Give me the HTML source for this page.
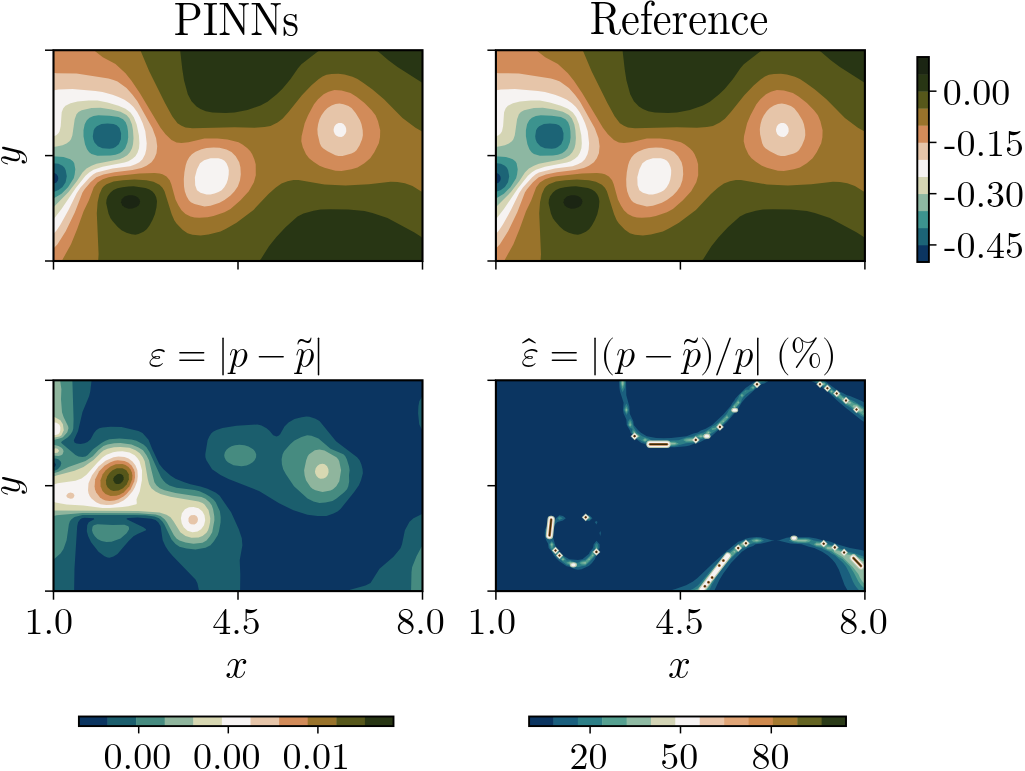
<!DOCTYPE html>
<html><head><meta charset="utf-8"><title>PINNs vs Reference</title><style>html,body{margin:0;padding:0;background:#fff;}svg{display:block;}</style></head><body>
<svg width="1025" height="771" viewBox="0 0 1025 771">
<rect width="1025" height="771" fill="#fff"/>
<clipPath id="cTL"><rect x="53.50" y="50.20" width="369.00" height="210.80"/></clipPath>
<g clip-path="url(#cTL)"><rect x="53.50" y="50.20" width="369.00" height="210.80" fill="#0b3561"/>
<path fill="#1c6476" d="M51.5,48.2 424.5,48.2 424.5,263.2 51.5,263.2 51.5,184.8 56.5,182.5 58,180.2 58.3,178.2 57.9,176.2 56.5,174.2 54.5,172.9 51.5,172Z"/>
<path fill="#3c938e" d="M51.5,48.2 424.5,48.2 424.5,263.2 51.5,263.2 51.5,192.7 58.5,190.1 62.5,187 65.6,182.2 66.8,176.2 65.7,170.2 64.5,167.8 62.5,165.7 58.5,163.7 51.5,163ZM101.5,124.1 96.8,126.2 94.8,128.2 93.7,130.2 92.8,136.2 93.2,139.2 94.5,142.5 97.9,146.2 102.5,148.2 109.5,148.8 113,148.2 115.5,147.1 118.8,144.2 120.9,139.2 121.1,133.2 119.5,128 116.7,125.2 113.5,124.1 107.5,123.5Z"/>
<path fill="#8db7a2" d="M51.5,48.2 424.5,48.2 424.5,263.2 51.5,263.2 51.5,199.7 61.5,193.7 68,187.2 73.7,178.2 74.7,174.2 75.3,169.2 74.2,163.2 72.9,161.2 70.3,159.2 63.5,156.9 51.5,156.2ZM98.5,115.2 93.5,116.1 89.5,117.7 86.8,120.2 84.7,124.2 83.5,130.2 83.5,136.2 85,144.2 87,149.2 89.2,152.2 91.5,154 97.5,155.8 110.5,155.5 115.5,154.7 119.7,153.2 122.5,151.2 125.2,148.2 127.5,142.2 128.2,137.2 128,131.2 127.2,126.2 125.7,122.2 123.1,119.2 118.5,117.1 109.5,115.7Z"/>
<path fill="#d5d5b4" d="M51.5,48.2 424.5,48.2 424.5,263.2 51.5,263.2 51.5,209.2 68.5,192.1 76.8,181.2 82.5,172.5 86.5,168.6 91.5,165.7 96.5,163.7 119.5,159.2 123.5,157.6 127.2,155.2 129.9,152.2 132,148.2 133,144.2 133.5,138.2 133,130.2 131.9,124.2 129.5,118.4 126.5,114.9 120.5,111.8 111.5,109.5 100.5,107.8 91.5,107.9 81.7,110.2 78.5,112.1 76.5,114.2 74.7,119.2 72.4,135.2 71,139.2 69.5,141.3 66.5,143.6 62.5,145.3 56.5,146.6 51.5,147.1Z"/>
<path fill="#f6f3f2" d="M51.5,48.2 424.5,48.2 424.5,263.2 51.5,263.2 51.5,221.9 61.5,209 75.6,188.2 85.5,175.8 89.5,172.3 93.5,169.7 102.5,166.8 124.5,162.6 128.4,161.2 132.5,158.8 135.4,156.2 137.5,152.7 139,148.2 139.4,143.2 138.9,135.2 136.6,124.2 133.8,117.2 130.5,112.4 125.5,108.8 118.5,105.8 107.5,102.4 97.5,100.6 88.5,100.4 77.5,101.4 70.5,103.2 65.5,105.7 63.3,108.2 61.7,112.2 60.7,126.2 59.6,131.2 58.4,133.2 56.2,135.2 53.9,136.2 51.5,136.4Z"/>
<path fill="#e6c5a9" d="M51.5,48.2 424.5,48.2 424.5,263.2 51.5,263.2 51.5,236.2 56.5,230.6 60.5,224.4 68.5,210.1 76.7,193.2 80.5,187.4 89.8,177.2 93.4,174.2 96.5,172.5 112.5,168.6 130.1,166.2 135.5,164.3 139.4,162.2 142.5,159.2 145.1,154.2 146.3,149.2 146.7,143.2 145.3,131.2 142.7,123.2 140,117.2 137.3,112.2 133.5,107.1 129.5,103.2 124.5,99.8 118.5,96.9 112.5,94.7 102.5,92.1 95.5,91 72.5,89 58.5,89.4 51.5,90.7ZM210.5,158.2 204.1,160.2 200,163.2 197,169.2 194.9,177.2 195.2,185.2 197,190.2 200.5,192.8 206.5,194.4 210.5,194.4 214.5,193.5 218.5,192.1 221.6,190.2 224.3,187.2 226.6,183.2 227.9,179.2 228.7,174.2 228.8,170.2 228.2,167.2 226.5,163.3 224.5,160.8 221.9,159.2 218.5,158.3ZM338.5,123 336.1,124.2 334.5,126.2 333.6,129.2 333.7,131.2 334.9,134.2 336.5,135.8 338.5,136.8 341.5,136.9 343.5,136 345.5,133.6 346.3,131.2 346.1,128.2 345.3,126.2 343.5,124.1 341.5,123Z"/>
<path fill="#d28b59" d="M51.5,48.2 424.5,48.2 424.5,263.2 51.5,263.2 51.5,250.6 57.5,244.2 65.7,231.2 74.9,212.2 82.5,192.5 84.6,189.2 90.5,182.2 96.3,177.2 103.5,174.5 114.5,172.2 132.5,170.1 141.5,167.9 146.5,165.8 151.5,162.2 154.4,158.2 156.5,153.2 157.2,146.2 156.1,138.2 152.4,128.2 137.5,101.6 132.5,94.7 126.5,87.9 117.5,81.6 113.5,79.9 108.5,78.6 76.5,73.5 56.5,73.2 51.5,72.6ZM206.5,148.1 201.5,149.2 195.5,151.8 191.9,154.2 189.2,157.2 187,161.2 185.7,165.2 184.4,172.2 183.8,179.2 184,186.2 184.8,191.2 186.6,196.2 188.9,200.2 190.9,202.2 194.5,204.1 204.5,206.4 210.5,205.7 219.5,202.8 224.5,200.1 230.5,195.5 234.5,191.2 237.9,186.2 240,180.2 240.8,174.2 240.4,167.2 239.2,162.2 235.7,156.2 231.5,151.9 226.5,149.5 219.5,147.8 213.5,147.5ZM335.5,104 331.5,105.4 327.5,107.9 324.5,110.9 321.5,115.2 319.5,119.2 318.1,124.2 317.4,129.2 317.7,134.2 319.8,143.2 321.2,146.2 323,148.2 327.5,151.3 335.4,155.2 338.5,156.1 342.5,156 351.5,153.6 354.5,152 356.5,150.2 359.5,145.4 362.1,139.2 362.9,135.2 362.7,130.2 361.5,124.2 360,120.2 355.8,113.2 351.8,108.2 348.5,105.9 343.5,104.2 339.5,103.6Z"/>
<path fill="#99732b" d="M89.2,48.2 424.5,48.2 424.5,263.2 60.5,263.2 71,244.2 77.1,229.2 83.6,211.2 88.9,200.2 93.8,187.2 97.5,182.4 102.7,179.2 108.5,177.3 113.9,176.2 139.5,173.4 154.5,172.9 159.5,173.4 162.5,174.2 166.5,176.6 169.7,180.2 171.3,184.2 175.5,199.4 178.5,205.6 181.5,210.2 185.5,213.9 190.5,216.5 194.5,217.6 199.5,217.8 207.5,217.3 213.5,216.1 224.5,212.3 230.5,209 240.5,200.2 248.8,191.2 253.9,182.2 255.8,175.2 255.7,164.2 254.3,159.2 252.2,154.2 250.3,151.2 247.4,148.2 242.5,144.5 238.5,142.3 227.5,139.4 217.5,138.4 204.5,138.6 188.5,142.2 181.5,143 176.5,142.6 171.5,139.9 165.5,134.2 160.5,127.7 139.9,93.2 131.5,80.8 125.5,73.2 115.5,63.9 102.8,57.2 94.5,50.8ZM334.5,90.1 328.5,91.7 323.6,94.2 318,99.2 314,104.2 308.1,115.2 304.7,123.2 301.6,136.2 301.3,141.2 302.8,147.2 306,154.2 309.1,158.2 313.5,161.8 319.5,165.7 324.5,167.8 335.5,170.7 341.5,171.1 351.5,169.3 357.5,167.4 364.4,163.2 370.2,158.2 374.3,152.2 378.8,143.2 380,137.2 380.2,130.2 378,121.2 375.5,115.2 371.6,110.2 364.5,103 356.5,96.7 350.5,93.1 341.5,90.5Z"/>
<path fill="#56571a" d="M139.5,48.2 424.5,48.2 424.5,132.9 415.5,127.7 402.5,118.1 384,99.2 372.5,89.5 363.5,83 357.5,79 352.5,76.7 344.5,74.5 338.5,73.7 331.5,74 326.5,74.8 322.5,76.5 318.5,79.3 311.5,85.3 301.9,95.2 288.5,112 282.5,118.7 277.5,122.6 270.5,126 264.5,127.1 254.5,127.8 234.5,127.3 192.5,128.3 185.5,127.5 181.5,125.8 177.5,123.3 172.2,116.2 165.1,103.2 149.2,71.2ZM122.9,180.2 134.5,179.4 146.5,180.3 153.5,181.7 159.5,184.8 162.5,187.7 164.5,191.2 171.7,214.2 174.3,220.2 176.5,223.6 182.5,229.7 187.5,233.3 192.5,234.7 200.5,235.4 208.5,234.5 220.5,231.4 226.5,228.6 236.5,222.8 253.5,209.9 268.5,194.1 275.5,187.7 281.5,183.4 287.5,181.2 293.5,180.1 298.5,180 324.5,184.4 345.5,185.6 368.9,184.2 390.5,181.7 397.5,181.9 404.9,183.2 412.5,186.1 420.9,191.2 424.5,192.7 424.5,263.2 98,263.2 98.6,254.2 96.8,213.2 97.6,202.2 99.4,194.2 102.1,188.2 103.8,186.2 106.5,184.2 113.5,181.6Z"/>
<path fill="#283614" d="M179.9,48.2 323.9,48.2 317.5,51.7 301.4,64.2 298,68.2 290.4,79.2 282.5,88.8 276.5,94.6 267.5,101.8 260.5,105.4 247.5,110.1 234.5,112.4 225.5,113 212.5,112.6 205.8,111.2 200.5,109 196.5,106.6 191.5,101.2 187.8,94.2 184,80.2 182.3,69.2ZM372,48.2 424.5,48.2 424.5,84.1 397.5,66.9 388.4,60.2 378.5,51.8ZM122.4,187.2 128.5,186.4 133.5,186.3 145.5,188.1 149.5,189.6 152.5,191.4 154.8,194.2 156.2,197.2 157,201.2 156.5,207.2 154.9,214.2 152.5,219.9 149.5,225.5 146.7,229.2 143.5,231.7 138.5,234.1 135.5,234.8 131.5,234.3 126.5,232.7 121.5,230.2 117.5,226.8 112.5,221.1 110.5,218.2 108.5,213.4 106.2,203.2 106.5,199.7 107.7,196.2 110.5,192.4 113.5,190 117.5,188.3ZM330.5,209.2 348.5,209.4 364.5,211.1 372.5,212.9 387.5,218 414,232.2 420.3,236.2 424.5,239.6 424.5,263.2 256.2,263.2 260.8,259.2 269,246.2 276.2,237.2 285.5,227.2 297.5,216.6 303.5,213.5 313.5,210.7 320.5,209.6Z"/>
<path fill="#1b2513" d="M128.7,195.2 132.5,195.2 135.5,196 137.5,197.2 139.3,199.2 140,201.2 139.7,203.2 138.6,205.2 136.5,207.1 132.5,208.6 128.5,208.7 124.5,207.2 122.2,205.2 121,202.2 121.8,199.2 124.5,196.6Z"/></g>
<clipPath id="cTR"><rect x="495.90" y="50.20" width="369.00" height="210.80"/></clipPath>
<g clip-path="url(#cTR)"><rect x="495.90" y="50.20" width="369.00" height="210.80" fill="#0b3561"/>
<g transform="translate(442.40,0)"><path fill="#1c6476" d="M51.5,48.2 424.5,48.2 424.5,263.2 51.5,263.2 51.5,184.8 56.5,182.5 58,180.2 58.3,178.2 57.9,176.2 56.5,174.2 54.5,172.9 51.5,172Z"/>
<path fill="#3c938e" d="M51.5,48.2 424.5,48.2 424.5,263.2 51.5,263.2 51.5,192.7 58.5,190.1 62.5,187 65.6,182.2 66.8,176.2 65.7,170.2 64.5,167.8 62.5,165.7 58.5,163.7 51.5,163ZM101.5,124.1 96.8,126.2 94.8,128.2 93.7,130.2 92.8,136.2 93.2,139.2 94.5,142.5 97.9,146.2 102.5,148.2 109.5,148.8 113,148.2 115.5,147.1 118.8,144.2 120.9,139.2 121.1,133.2 119.5,128 116.7,125.2 113.5,124.1 107.5,123.5Z"/>
<path fill="#8db7a2" d="M51.5,48.2 424.5,48.2 424.5,263.2 51.5,263.2 51.5,199.7 61.5,193.7 68,187.2 73.7,178.2 74.7,174.2 75.3,169.2 74.2,163.2 72.9,161.2 70.3,159.2 63.5,156.9 51.5,156.2ZM98.5,115.2 93.5,116.1 89.5,117.7 86.8,120.2 84.7,124.2 83.5,130.2 83.5,136.2 85,144.2 87,149.2 89.2,152.2 91.5,154 97.5,155.8 110.5,155.5 115.5,154.7 119.7,153.2 122.5,151.2 125.2,148.2 127.5,142.2 128.2,137.2 128,131.2 127.2,126.2 125.7,122.2 123.1,119.2 118.5,117.1 109.5,115.7Z"/>
<path fill="#d5d5b4" d="M51.5,48.2 424.5,48.2 424.5,263.2 51.5,263.2 51.5,209.2 68.5,192.1 76.8,181.2 82.5,172.5 86.5,168.6 91.5,165.7 96.5,163.7 119.5,159.2 123.5,157.6 127.2,155.2 129.9,152.2 132,148.2 133,144.2 133.5,138.2 133,130.2 131.9,124.2 129.5,118.4 126.5,114.9 120.5,111.8 111.5,109.5 100.5,107.8 91.5,107.9 81.7,110.2 78.5,112.1 76.5,114.2 74.7,119.2 72.4,135.2 71,139.2 69.5,141.3 66.5,143.6 62.5,145.3 56.5,146.6 51.5,147.1Z"/>
<path fill="#f6f3f2" d="M51.5,48.2 424.5,48.2 424.5,263.2 51.5,263.2 51.5,221.9 61.5,209 75.6,188.2 85.5,175.8 89.5,172.3 93.5,169.7 102.5,166.8 124.5,162.6 128.4,161.2 132.5,158.8 135.4,156.2 137.5,152.7 139,148.2 139.4,143.2 138.9,135.2 136.6,124.2 133.8,117.2 130.5,112.4 125.5,108.8 118.5,105.8 107.5,102.4 97.5,100.6 88.5,100.4 77.5,101.4 70.5,103.2 65.5,105.7 63.3,108.2 61.7,112.2 60.7,126.2 59.6,131.2 58.4,133.2 56.2,135.2 53.9,136.2 51.5,136.4Z"/>
<path fill="#e6c5a9" d="M51.5,48.2 424.5,48.2 424.5,263.2 51.5,263.2 51.5,236.2 56.5,230.6 60.5,224.4 68.5,210.1 76.7,193.2 80.5,187.4 89.8,177.2 93.4,174.2 96.5,172.5 112.5,168.6 130.1,166.2 135.5,164.3 139.4,162.2 142.5,159.2 145.1,154.2 146.3,149.2 146.7,143.2 145.3,131.2 142.7,123.2 140,117.2 137.3,112.2 133.5,107.1 129.5,103.2 124.5,99.8 118.5,96.9 112.5,94.7 102.5,92.1 95.5,91 72.5,89 58.5,89.4 51.5,90.7ZM210.5,158.2 204.1,160.2 200,163.2 197,169.2 194.9,177.2 195.2,185.2 197,190.2 200.5,192.8 206.5,194.4 210.5,194.4 214.5,193.5 218.5,192.1 221.6,190.2 224.3,187.2 226.6,183.2 227.9,179.2 228.7,174.2 228.8,170.2 228.2,167.2 226.5,163.3 224.5,160.8 221.9,159.2 218.5,158.3ZM338.5,123 336.1,124.2 334.5,126.2 333.6,129.2 333.7,131.2 334.9,134.2 336.5,135.8 338.5,136.8 341.5,136.9 343.5,136 345.5,133.6 346.3,131.2 346.1,128.2 345.3,126.2 343.5,124.1 341.5,123Z"/>
<path fill="#d28b59" d="M51.5,48.2 424.5,48.2 424.5,263.2 51.5,263.2 51.5,250.6 57.5,244.2 65.7,231.2 74.9,212.2 82.5,192.5 84.6,189.2 90.5,182.2 96.3,177.2 103.5,174.5 114.5,172.2 132.5,170.1 141.5,167.9 146.5,165.8 151.5,162.2 154.4,158.2 156.5,153.2 157.2,146.2 156.1,138.2 152.4,128.2 137.5,101.6 132.5,94.7 126.5,87.9 117.5,81.6 113.5,79.9 108.5,78.6 76.5,73.5 56.5,73.2 51.5,72.6ZM206.5,148.1 201.5,149.2 195.5,151.8 191.9,154.2 189.2,157.2 187,161.2 185.7,165.2 184.4,172.2 183.8,179.2 184,186.2 184.8,191.2 186.6,196.2 188.9,200.2 190.9,202.2 194.5,204.1 204.5,206.4 210.5,205.7 219.5,202.8 224.5,200.1 230.5,195.5 234.5,191.2 237.9,186.2 240,180.2 240.8,174.2 240.4,167.2 239.2,162.2 235.7,156.2 231.5,151.9 226.5,149.5 219.5,147.8 213.5,147.5ZM335.5,104 331.5,105.4 327.5,107.9 324.5,110.9 321.5,115.2 319.5,119.2 318.1,124.2 317.4,129.2 317.7,134.2 319.8,143.2 321.2,146.2 323,148.2 327.5,151.3 335.4,155.2 338.5,156.1 342.5,156 351.5,153.6 354.5,152 356.5,150.2 359.5,145.4 362.1,139.2 362.9,135.2 362.7,130.2 361.5,124.2 360,120.2 355.8,113.2 351.8,108.2 348.5,105.9 343.5,104.2 339.5,103.6Z"/>
<path fill="#99732b" d="M89.2,48.2 424.5,48.2 424.5,263.2 60.5,263.2 71,244.2 77.1,229.2 83.6,211.2 88.9,200.2 93.8,187.2 97.5,182.4 102.7,179.2 108.5,177.3 113.9,176.2 139.5,173.4 154.5,172.9 159.5,173.4 162.5,174.2 166.5,176.6 169.7,180.2 171.3,184.2 175.5,199.4 178.5,205.6 181.5,210.2 185.5,213.9 190.5,216.5 194.5,217.6 199.5,217.8 207.5,217.3 213.5,216.1 224.5,212.3 230.5,209 240.5,200.2 248.8,191.2 253.9,182.2 255.8,175.2 255.7,164.2 254.3,159.2 252.2,154.2 250.3,151.2 247.4,148.2 242.5,144.5 238.5,142.3 227.5,139.4 217.5,138.4 204.5,138.6 188.5,142.2 181.5,143 176.5,142.6 171.5,139.9 165.5,134.2 160.5,127.7 139.9,93.2 131.5,80.8 125.5,73.2 115.5,63.9 102.8,57.2 94.5,50.8ZM334.5,90.1 328.5,91.7 323.6,94.2 318,99.2 314,104.2 308.1,115.2 304.7,123.2 301.6,136.2 301.3,141.2 302.8,147.2 306,154.2 309.1,158.2 313.5,161.8 319.5,165.7 324.5,167.8 335.5,170.7 341.5,171.1 351.5,169.3 357.5,167.4 364.4,163.2 370.2,158.2 374.3,152.2 378.8,143.2 380,137.2 380.2,130.2 378,121.2 375.5,115.2 371.6,110.2 364.5,103 356.5,96.7 350.5,93.1 341.5,90.5Z"/>
<path fill="#56571a" d="M139.5,48.2 424.5,48.2 424.5,132.9 415.5,127.7 402.5,118.1 384,99.2 372.5,89.5 363.5,83 357.5,79 352.5,76.7 344.5,74.5 338.5,73.7 331.5,74 326.5,74.8 322.5,76.5 318.5,79.3 311.5,85.3 301.9,95.2 288.5,112 282.5,118.7 277.5,122.6 270.5,126 264.5,127.1 254.5,127.8 234.5,127.3 192.5,128.3 185.5,127.5 181.5,125.8 177.5,123.3 172.2,116.2 165.1,103.2 149.2,71.2ZM122.9,180.2 134.5,179.4 146.5,180.3 153.5,181.7 159.5,184.8 162.5,187.7 164.5,191.2 171.7,214.2 174.3,220.2 176.5,223.6 182.5,229.7 187.5,233.3 192.5,234.7 200.5,235.4 208.5,234.5 220.5,231.4 226.5,228.6 236.5,222.8 253.5,209.9 268.5,194.1 275.5,187.7 281.5,183.4 287.5,181.2 293.5,180.1 298.5,180 324.5,184.4 345.5,185.6 368.9,184.2 390.5,181.7 397.5,181.9 404.9,183.2 412.5,186.1 420.9,191.2 424.5,192.7 424.5,263.2 98,263.2 98.6,254.2 96.8,213.2 97.6,202.2 99.4,194.2 102.1,188.2 103.8,186.2 106.5,184.2 113.5,181.6Z"/>
<path fill="#283614" d="M179.9,48.2 323.9,48.2 317.5,51.7 301.4,64.2 298,68.2 290.4,79.2 282.5,88.8 276.5,94.6 267.5,101.8 260.5,105.4 247.5,110.1 234.5,112.4 225.5,113 212.5,112.6 205.8,111.2 200.5,109 196.5,106.6 191.5,101.2 187.8,94.2 184,80.2 182.3,69.2ZM372,48.2 424.5,48.2 424.5,84.1 397.5,66.9 388.4,60.2 378.5,51.8ZM122.4,187.2 128.5,186.4 133.5,186.3 145.5,188.1 149.5,189.6 152.5,191.4 154.8,194.2 156.2,197.2 157,201.2 156.5,207.2 154.9,214.2 152.5,219.9 149.5,225.5 146.7,229.2 143.5,231.7 138.5,234.1 135.5,234.8 131.5,234.3 126.5,232.7 121.5,230.2 117.5,226.8 112.5,221.1 110.5,218.2 108.5,213.4 106.2,203.2 106.5,199.7 107.7,196.2 110.5,192.4 113.5,190 117.5,188.3ZM330.5,209.2 348.5,209.4 364.5,211.1 372.5,212.9 387.5,218 414,232.2 420.3,236.2 424.5,239.6 424.5,263.2 256.2,263.2 260.8,259.2 269,246.2 276.2,237.2 285.5,227.2 297.5,216.6 303.5,213.5 313.5,210.7 320.5,209.6Z"/>
<path fill="#1b2513" d="M128.7,195.2 132.5,195.2 135.5,196 137.5,197.2 139.3,199.2 140,201.2 139.7,203.2 138.6,205.2 136.5,207.1 132.5,208.6 128.5,208.7 124.5,207.2 122.2,205.2 121,202.2 121.8,199.2 124.5,196.6Z"/></g></g>
<clipPath id="cBL"><rect x="53.50" y="380.30" width="369.00" height="210.80"/></clipPath>
<g clip-path="url(#cBL)"><rect x="53.50" y="380.30" width="369.00" height="210.80" fill="#0b3561"/>
<path fill="#1b5e6d" d="M51.5,378.3 91.8,378.3 90.3,391.3 89.1,396.3 82.5,412 78,431.3 73.8,440.3 74.5,442.5 76.5,443.5 80.5,444 84.5,443.3 87.5,442 90.6,439.3 93.8,433.3 96.2,430.3 99.2,428.3 102.5,427.4 110.5,426.8 121.5,427 138.5,430.9 142.5,433.1 148.5,439.7 152.3,449.3 159.4,464.3 163.5,469.3 170.5,475.4 175.5,478.8 184.4,482.3 190.5,484.3 200.5,486.5 207.5,488.8 215.5,492.4 219.5,495.6 231.1,512.3 238.8,529.3 241.8,538.3 242.4,545.3 239.7,560.3 240.3,574.3 240.1,593.3 199.6,593.3 197.4,583.3 195.5,579.6 172.5,555.8 168.5,551.1 165.4,546.3 162.7,540.3 160.6,526.3 158.2,522.3 155.5,520 151.5,518.7 137.5,517.6 128.5,518 126.8,518.3 126.7,519.3 143.3,527.3 146,529.3 146,530.3 137.5,533.9 133.5,536.3 128.4,541.3 117.5,554 113.5,556.6 109.5,557.8 107.5,557.6 104.5,556.3 98.5,551.8 91.1,542.3 88.2,536.3 86.8,531.3 87.2,525.3 88.7,522.3 94.2,519.3 93.9,518.3 84.5,517.7 81.9,518.3 80.3,519.3 78.1,522.3 77.2,526.3 74.5,568.3 74.1,593.3 51.5,593.3 51.5,466.7 53.5,467.2 54.5,466.9 55.5,466 55.9,464.3 54.5,462.4 52.5,462.3 51.5,462.7ZM424,393.3 424.5,392.5 424.5,434.6 419.2,424.3 418.1,413.3 418.4,406.3 419.3,401.3ZM301.6,417.3 306.5,416.6 309.5,416.8 315.5,418.7 319.5,420.9 336,441.3 357.1,457.3 359.6,460.3 361.3,464.3 362.6,469.3 362.9,473.3 361,480.3 358.9,485.3 354,492.3 340.5,509.1 337.5,511.5 333.5,513.6 326.5,516 317.5,515.9 307.5,514.7 293.5,510.3 279.1,503.3 259.5,491.2 228.5,479 220.5,475 212.1,469.3 206.4,460.3 205.4,457.3 205.3,454.3 207.6,440.3 209.4,436.3 211.4,433.3 213.5,431.5 216.5,429.9 222.5,427.9 236.5,425.8 257.5,424.5 261.5,425.5 266.5,428.3 269.5,430.7 273.2,435.3 276.5,436.6 278.5,435.8 280.1,434.3 284.5,426.5 288.5,422.6 294.5,419.1ZM423.9,512.3 424.5,511.6 424.5,593.3 341.7,593.3 347.5,590.4 365.5,585.6 370.5,583.1 379.5,568.7 393.5,556.8 400.5,548.3 402,544.3 404.9,530.3 409.5,521.8 413.5,518.2 421.5,514.3Z"/>
<path fill="#468b80" d="M51.5,378.3 72.3,378.3 73.6,419.3 73.3,428.3 72.5,431.3 70.5,434.6 67.5,437.4 62,441.3 61.1,442.3 61.6,443.3 75.5,455 78.5,456.4 82.5,457.1 85.5,456.5 87.5,455.3 93.1,449.3 101.5,443 105.5,440.7 109.5,439.3 119.5,438.5 131.5,439.5 136.5,440.8 143.5,444.5 146.5,447.2 149.5,452 161,477.3 163.5,480.8 166,483.3 169.5,485.4 176.5,487.7 194.5,490 199.5,491.3 205.5,494 209.3,496.3 213.2,499.3 215.7,502.3 219.9,511.3 220.7,517.3 220.6,522.3 219,531.3 217.7,535.3 213.9,541.3 210.5,545.3 205.5,547.7 195.5,549.6 186.5,548.6 179.5,546.7 175.5,544 171.5,539.6 164.5,524.8 162.2,521.3 159,518.3 154.5,516.5 145.5,515.3 133.5,514.9 82.5,515 74.5,517.1 71.5,519.3 69.9,521.3 68.9,524.3 66.6,540.3 63.5,549 60.5,553.6 51.5,561.4 51.5,471.1 54.5,470.7 57.8,469.3 60.4,466.3 61.3,463.3 60.6,461.3 58.2,459.3 55.5,458.5 51.5,458.3ZM307.2,435.3 311.5,435.7 318.5,438.6 330.5,448.8 343.4,454.3 345.3,456.3 346.8,459.3 349,466.3 349.6,470.3 349,475.3 349.2,481.3 348.3,486.3 347,489.3 344.2,492.3 336.5,498.6 332.5,500.9 325.5,502.6 319.5,503.1 313.5,501.5 307.5,498.6 294,486.3 285.9,474.3 283.2,469.3 281.9,464.3 281.6,459.3 282.6,454.3 284.1,451.3 290.2,444.3 294.5,440.4 301.5,437ZM234.9,445.3 239.5,444.7 244.5,445.3 248.5,446.5 253.1,449.3 254.9,451.3 256.2,454.3 256.1,457.3 254.6,460.3 252.7,462.3 249.5,464.3 246.5,465.5 241.5,466.3 233.5,465.3 227.9,462.3 225.9,460.3 224.5,457.3 224.2,455.3 224.9,452.3 226.5,449.8 228.5,448.1 231.5,446.3ZM97.4,524.3 112.5,525 124.5,524.8 128.3,526.3 128.9,527.3 129.1,529.3 126.6,533.3 120.5,538.4 111.5,541.7 106.5,542.1 101.5,540.9 97.5,539 94.8,536.3 92.9,533.3 92,530.3 92.5,526.7 93.8,525.3ZM424.2,543.3 424.5,593.3 411,593.3 411.5,572.3 412.1,567.3 416.5,556.2 421.3,547.3Z"/>
<path fill="#8fb59d" d="M51.5,378.3 59.8,378.3 61.4,389.3 61,399.3 62,412.3 63.7,417.3 68.1,426.3 68.5,428.3 67.3,432.3 62.9,437.3 59.5,438.6 53.5,439.9 51.5,441.6ZM114.3,443.3 120.5,443.1 131.5,444.4 138.5,447.4 143,450.3 146.5,455.2 149,460.3 154.4,482.3 156.4,485.3 159.8,488.3 164.5,490.3 175.5,493 201.5,496.9 205.5,498.8 209.5,502.3 211.7,505.3 213.1,509.3 214.3,516.3 214.4,520.3 212.2,532.3 209.9,536.3 206.5,540.5 202.5,542.7 193.5,543.7 185.5,542.5 179.5,540.6 176.5,538.4 173.9,535.3 166.9,522.3 164.6,519.3 160.5,516.1 155.5,514.6 138.5,513.2 82.5,513 56.5,515.3 51.5,516.6 51.5,473.9 58.5,471.8 68.5,467 85.5,460.9 92.8,456.3 98.5,450.1 103.5,446.1 107.5,444.5ZM51.5,444.3 51.5,443.6 53.5,444.8 58.5,445.9 61.5,447.7 62.9,449.3 63.6,451.3 62.6,454.3 61.2,455.3 58.5,456 51.5,455.5ZM314.8,450.3 319.5,449.4 324.5,450.6 336.4,457.3 338.2,459.3 339.2,461.3 341.1,470.3 339.3,481.3 336.3,486.3 333,489.3 330.5,490.6 322.5,492 315.5,490.3 312.5,488.8 310.5,487 306,480.3 304.6,475.3 304.1,470.3 306.2,460.3 307.7,456.3 309.1,454.3Z"/>
<path fill="#d8d8b2" d="M51.5,415.3 60.4,420.3 62.9,424.3 63.8,430.3 61.5,435.3 59.5,436.6 51.5,437.9ZM114,447.3 120.5,446.9 129.5,447.8 135.6,450.3 139.8,453.3 142.8,457.3 144.7,461.3 147.8,479.3 149.1,484.3 151.4,488.3 155.5,491.5 160.5,494.1 170.5,496.7 198.5,501.6 202.5,503.1 204.5,504.6 208.5,510.1 210.3,518.3 210.1,522.3 209,527.3 208,530.3 206.5,532.7 202.5,536 198.5,537.5 191.5,537.7 185.5,535.9 180.3,532.3 173.5,521.2 170.5,517.3 166.5,514.8 159.5,512.4 138.5,511.1 51.5,510.4 51.5,477.4 56.5,475.4 74.5,470.7 83.5,467.1 93.5,459.9 100.5,452.9 103.5,450.6 107.5,448.8ZM55.5,448.3 57.5,448.8 58.9,450.3 58.9,451.3 57.5,452.7 54.5,452.9 52.5,451.3 52.7,449.3ZM319.7,464.3 322.5,463.7 324.8,464.3 327.1,466.3 328.4,469.3 328.6,472.3 327.6,475.3 326,477.3 323.5,478.6 320.5,478.7 318.5,477.9 316.5,476.1 315.2,473.3 315,471.3 315.7,468.3 317.5,465.8Z"/>
<path fill="#f6f3f2" d="M51.5,422.3 51.5,421.9 56.5,422.7 59.5,424.8 60.4,427.3 60.3,430.3 59.5,432.9 58.1,434.3 55.5,435 51.5,434.9ZM113.1,452.3 117.5,451.5 122.5,451.3 129.5,452.6 134.7,455.3 137.5,458.2 139.5,461.3 142,470.3 141.9,480.3 139.8,491.3 136.5,499.3 136.8,503.3 136.4,504.3 128.2,506.3 122.5,507.1 109.5,508.1 102.5,508 83.5,505.6 66.5,504.5 55.5,502.6 51.5,500.6 51.5,486.6 53.5,484.7 57.5,483.2 75.5,480.8 81.5,478.6 86.5,474.8 97.5,462.5 102.5,457.6 106.5,454.8ZM189,507.3 193.5,506.9 198.5,508.2 202.3,511.3 204.5,515.3 205.2,520.3 204,525.3 201.1,529.3 197.5,531.4 192.5,532.2 187.5,530.7 183.7,527.3 181.7,523.3 180.9,518.3 181.9,513.3 184.9,509.3Z"/>
<path fill="#e6c5a9" d="M113.5,457.3 118.5,456.6 124.5,457 128.5,458.6 132.5,461.4 135.4,465.3 137.4,470.3 137.8,476.3 137.2,481.3 134.9,487.3 132.6,491.3 127.5,497.3 123.5,500.5 118.5,503.1 112.5,504.7 106.5,505 100.5,504.3 96.1,502.3 91.5,498.6 89.8,496.3 88.5,493.3 88,490.3 88.5,483.3 92,475.3 98.5,466.6 105.5,460.7ZM68.1,493.3 70.5,492.6 73.2,493.3 74.5,495.3 73.9,497.3 72.5,498.4 70.5,498.8 67.5,497.8 66.4,496.3 66.4,495.3ZM191,515.3 194.5,514.9 196.5,516.1 197.5,517.5 198,519.3 197.5,521.8 196.4,523.3 194.5,524.5 191,524.3 189.5,523.2 188.5,521.5 188.5,518.2 189.5,516.5Z"/>
<path fill="#d28b59" d="M117.7,460.3 124.5,460.9 128.5,462.8 131.5,465.4 133.8,469.3 134.8,472.3 135,477.3 134.3,481.3 130.6,489.3 126.5,493.9 123.5,496.4 118.5,499.2 114.5,500.5 109.5,501 105.5,500.5 102.5,499.2 99.8,497.3 96.1,492.3 95,489.3 94.6,486.3 95.2,479.3 99.2,471.3 104.5,465.8 110.5,462.2 114.5,460.8Z"/>
<path fill="#99732b" d="M115.8,464.3 122.5,464.1 125.5,465 128.5,467 130.4,469.3 131.8,472.3 132.4,475.3 132.2,479.3 129.4,486.3 123.9,492.3 120.5,494.3 116.5,495.8 110.5,496 105.5,494 102.5,490.9 100.6,486.3 100.5,480.3 102.7,474.3 105.8,470.3 110.5,466.5Z"/>
<path fill="#56571a" d="M116.9,468.3 122.5,468.2 126.4,470.3 128.7,474.3 128.9,479.3 126.8,484.3 123.1,488.3 118.5,490.6 113.5,491 110.5,490 107.5,487.3 106.2,484.3 106,480.3 107.3,476.3 109.5,473 112.5,470.3Z"/>
<path fill="#283614" d="M117.2,474.3 119.5,473.8 121.5,474.3 122.7,475.3 123.6,477.3 123.6,479.3 122.5,481.6 120.5,483.4 118.5,484.1 116.5,484.1 114.8,483.3 113.3,480.3 113.5,478.3 114.5,476.4Z"/></g>
<clipPath id="cBR"><rect x="495.90" y="380.30" width="369.00" height="210.80"/></clipPath>
<g clip-path="url(#cBR)"><rect x="495.90" y="380.30" width="369.00" height="210.80" fill="#0b3561"/>
<path fill="#1a5f7e" d="M616.2,372.8 625.9,372.8 626.3,395.2 629.4,406.4 629.8,413.8 633.3,421.3 633.8,425 637.5,429.6 640.6,432.5 646.8,436.2 656.2,437.9 663.6,438.2 671.1,438 686.5,436.2 693.4,433.5 697.8,432.5 700.9,430.6 705.7,428.8 712.1,424.9 723.3,414.5 730.7,406 732.5,402.7 734.4,400.4 735,398.9 738.3,395.2 745.6,388.1 756.9,380.3 760.5,377 762.7,376.6 768,373.5 774.5,372.8 808.2,372.8 812.7,373.2 816.4,374.7 819.1,376.6 820.2,376.8 828.9,384 839,391.5 842.5,392.7 846.8,395.2 850,396.1 861.2,400.7 872.4,406.4 872.4,427.9 868.7,425 861.2,420.1 846.3,408.3 838.8,401.9 827.6,391.5 817.6,384 809.5,380.3 794.1,378.5 786.6,378.3 782.9,378.6 769.7,380.3 764.3,383.4 761.9,384 756.8,387.7 745.6,397.9 741.9,402.3 737.2,410.1 727,422 712.1,435.8 708.4,438.4 704,439.9 700.9,441.8 697.2,443.2 694.1,443.7 689.7,445.5 686,446.3 674.8,447.3 652.4,446.9 648.7,446 644.2,443.7 641.3,443.1 637.5,440 630.4,432.5 630.1,430.8 626.7,425 626.4,419.5 623.7,413.8 623,410.1 623.6,402.7 620,391.5 619.4,387.8 618.9,379.5ZM555.9,518.2 559.3,515.3 563,515.9 565.8,518.2 563,520.5 557.5,521.9 555.5,524.1 552.6,529.4 551.9,533.1 555.5,546 559.3,551.8 563,555.5 569.3,559.2 577.9,560.1 582.4,559.2 589.1,553.7 589.8,551.8 593,548 593.7,544.3 596.5,540.7 599.6,544.3 599.7,548 596.5,553.8 596.4,555.5 594.8,559.2 592,562.9 589.1,565.8 581.6,569.3 577.9,569.7 574.2,569.1 569.4,566.7 566.7,566.3 559.3,561.3 557.2,559.2 553.9,555.5 551.8,551.7 548.6,548 548.1,543.7 546.3,540.6 545,536.8 544.7,533.1 545,529.4 549.6,521.9 551.8,519.9 555.5,519.5ZM582.8,518.2 585.4,516.1 589.1,515.1 592.5,518.2 589.1,521.2 585.4,519.9ZM594.7,521.9 596.5,520.9 597.5,521.9 596.5,524.4ZM599.4,533.1 600.3,531.1 600.9,533.1 600.3,536ZM742,540.6 745.6,538.7 749.4,537.7 756.8,537.1 760.5,537.2 771.7,540.2 774.7,540.6 771.7,540.9 760.5,543.8 755.6,544.3 753.1,546 747.5,548 741.9,551.8 731,562.9 723.3,573.5 719.5,579.8 715.1,589 710.9,596.5 649.3,596.5 675.5,589 686.1,585.3 693,581.6 697.2,578.3 713.2,562.9 727,550.7 738.2,541.8ZM776.4,540.6 779.2,540.2 786.6,537.7 790.4,537.2 809,537.2 816.4,538.5 823.2,540.6 827.6,541.1 831.4,542.1 836.9,544.3 850,548 861.2,550 872.4,553.1 872.4,596.5 852,596.5 849,592.8 844.6,585.3 838.8,569.6 835.2,562.9 832,559.2 827.9,555.5 822.2,551.8 814.3,548 809,546.8 801.7,544.3 790.4,543.4 779.2,540.8Z"/>
<path fill="#2d7f87" d="M619.9,372.8 623.9,372.8 625.2,376.6 625.3,384 624.8,387.8 622.6,392.2 620.7,387.8 620.1,384ZM766.1,376.6 768,375.2 771.7,374 775.4,374.4 779.1,376.6 775.4,378.4 771.7,379.2 768,378.4 764.3,381.8 760.5,382.6 759.7,384 753.1,390.2 749.9,391.5 745.6,394.4 741.9,399.2 740.8,402.7 734.1,410.1 732.4,413.8 730.7,415.6 729.7,417.6 719.5,427.8 715.8,430.8 707.2,436.2 704.6,438.2 698,439.9 693.4,442.7 686,443.2 674.8,446.3 656.2,446.2 652.4,445.3 649.5,443.7 648.7,442.6 645,442.7 641.3,440.9 640.1,439.9 637.5,439 631.6,432.5 632.5,428.8 630.1,428.1 627.6,425 628.2,421.3 630.1,418.8 631.9,421.3 633.8,427.8 637,432.5 642.1,436.2 648.7,438.5 652.4,440.9 678.5,440.2 686,437.4 693.4,436.6 697.2,434.3 703.7,432.5 709.6,428.8 712.1,426.6 715.2,425 719.5,421.6 727,413.5 728.9,410.1 730.7,408.2 731.7,406.4 735.1,402.7 738.2,398.2 739.4,395.2 741.9,392.7 745.6,389.7 749.4,389.8 749.7,387.8 756.8,381.3 760.5,378.5 764.3,378.3ZM787.3,372.8 794.7,372.8 790.4,373.4ZM799.7,376.6 801.5,375.3 805.3,373.9 809,373.9 812.7,374.7 816.4,377.7 820.2,378 831.4,388.4 835.4,391.5 838.8,392.5 842.5,395.8 846.3,397.2 848.7,398.9 853.7,401.1 862.5,406.4 864.9,407.3 868.9,410.1 872.4,411.4 872.4,423.3 864.3,417.6 861.2,416.1 853.7,409.9 848.6,406.4 846.3,405.4 838.8,398.7 835.1,396.5 833.8,395.2 831.4,394.1 820.2,383.3 816.4,382.2 812.7,379.1 809,379.3 805.3,378.9ZM624.8,406.4 626.4,403.6 627.9,406.4 628.9,410.1 627.3,413.8 626.4,415 623.9,410.1ZM557.4,518.2 559.3,516.6 562.9,518.2 559.3,519.9ZM586.1,518.2 589.1,516.2 591.2,518.2 589.1,520.1ZM550.8,525.7 551.8,523.7 552.5,525.7 551.8,526.6ZM546.5,529.4 548.1,527.3 550.1,529.4 550.8,533.1 550,536.8 548.1,539.3 546.6,536.8 545.6,533.1ZM749.2,540.6 753.1,538.4 756.8,538 760.5,538.5 763.9,540.6 760.5,542.5 756.8,543.2 753.1,543.2 750.5,544.3 745.6,547.2 742.7,548 738.2,551.5 726.8,562.9 723.3,567.4 715.8,577.6 714,581.6 712.1,584.3 710,589 707.6,592.8 704.2,596.5 671.6,596.5 678.5,594 683.9,592.8 692.8,589 697.2,585.9 700.9,582.2 713.8,566.7 727,553.7 741.9,541.6ZM788.8,540.6 794.1,538.3 805.3,538 809,538.4 813.8,540.6 823.9,541.9 828.2,544.3 835.1,546.2 838,548 842.5,549.3 847.8,551.8 853.7,553.1 864.9,556.9 872.4,560.1 872.4,596.5 867.9,596.5 864.9,594.9 861.2,592.2 857.8,589 854.9,585.3 852.9,581.6 849.8,574.1 846.1,566.7 843.2,562.9 835.1,555.5 831.4,553.6 829.1,551.8 823.9,549.5 821.6,548 816.4,547.1 809,543.5 794.1,542.8ZM549.1,544.3 551.8,540.9 554.4,544.3 554.2,548 555.5,548.8 566,559.2 566.7,560.4 570.4,560.3 574.2,562.1 577.9,562.7 581.6,560.5 585.4,559.8 589.8,555.5 591.8,551.8 592.8,550.6 594.3,551.8 595.4,555.5 589.1,562.4 585.4,565.8 581.6,566.2 577.9,567.2 576.4,566.7 574.2,565.1 570.4,565.7 566.7,564.8 563,562.1 559.3,558.6 552.8,551.8 550,548ZM595.4,544.3 596.5,542.9 597.8,544.3 598.4,548 596.5,550.4 594.5,548Z"/>
<path fill="#55a090" d="M620.8,376.6 622.6,373.4 624.3,376.6 624.3,384 622.6,389.1 621,384ZM768.4,376.6 771.7,374.9 776.3,376.6 771.7,378.2ZM803.1,376.6 805.3,375.2 809,374.9 813.3,376.6 812.7,377.1 809,378.3 805.3,377.7ZM760.1,380.3 760.5,379.9 763.4,380.3 760.5,380.7ZM815.8,380.3 816.4,379.6 820.2,379.1 821.4,380.3 820.2,381.8 816.4,380.8ZM755,384 756.8,382.3 758.6,384 756.8,385.7ZM821.9,384 823.9,382.3 825.7,384 823.9,385.8ZM751.1,387.8 753.1,386.1 754.6,387.8 753.1,389.2ZM825.8,387.8 827.6,385.9 829.6,387.8 827.6,389.5ZM745.3,391.5 745.6,391.2 746.3,391.5 745.6,391.9ZM829.6,391.5 831.4,389.5 833.8,391.5 831.4,393.2ZM740.4,395.2 741.9,393.7 743.8,395.2 741.9,397.4ZM835.8,395.2 838.8,393.5 842.5,396.9 846.3,399.4 850,400.6 853.7,403.3 857.4,404.3 861.2,407.5 868.6,411.4 872.2,413.8 872.4,420.8 868.6,419.4 861.2,413.8 857.4,412.1 850,405.5 846.3,404.1 838.8,397.4ZM736.2,402.7 738.2,400 739.9,402.7 734.4,408.7 732.7,406.4ZM626.3,406.4 627.9,410.1 626.4,412.9 624.8,410.1ZM730.6,410.1 730.7,410 730.9,410.1 730.7,411.5ZM724.8,417.6 727,415.1 728.7,417.6 719.5,426.8 717,425ZM629.8,421.3 630.1,420.9 630.4,421.3 631.8,425 630.1,427 628.5,425ZM711.5,428.8 712.1,428.2 715.8,427.6 716.4,428.8 715.8,429.3 712.1,430ZM632.7,432.5 633.8,430.3 635.4,432.5 633.8,433.7ZM705.8,432.5 708.4,430.6 711.1,432.5 708.4,434.5ZM635.8,436.2 637.5,434.1 640.1,436.2 637.5,438ZM696.8,436.2 700.9,434.3 704.6,435.2 705.2,436.2 700.9,438.1 697.2,436.8ZM642.2,439.9 645,438.1 648.2,439.9 645,441.7ZM683.1,439.9 686,438.5 693.4,437.8 696,439.9 693.4,441.7 689.7,441.8 686,441.8ZM652.5,443.7 656.2,441.9 674.8,441.7 678.8,443.7 674.8,445.3 671.1,445.4 656.2,445.2ZM559,518.2 559.3,517.9 559.9,518.2 559.3,518.5ZM587.9,518.2 589.1,517.4 589.9,518.2 589.1,519ZM548,529.4 549.8,533.1 548.1,536.7 546.5,533.1ZM751.5,540.6 753.1,539.7 756.8,538.9 760.5,539.9 761.7,540.6 760.5,541.2 756.8,542.2 753.1,541.7ZM792.1,540.6 794.1,539.5 797.8,538.9 805.3,538.9 809,539.6 810.9,540.6 809,541.9 805.3,542.4 797.8,542.2 794.1,541.6ZM550.1,544.3 551.8,542.2 553.4,544.3 552.4,548 551.8,548.5ZM739.9,544.3 741.9,542.6 745.6,542.4 748.3,544.3 745.6,546.1 741.9,546.9 734.4,553.9 722.1,566.7 718.9,570.4 714.4,577.8 711.5,581.6 710.4,585.3 707.5,589 705.3,592.8 701.3,596.5 679.2,596.5 682.3,595.1 689.7,593 693.4,590.5 697.2,589 701.1,585.3 706,577.8 719.5,563.1 727.3,555.5ZM813.7,544.3 816.4,542.3 820.2,542.5 823.9,543.2 827.6,545.6 831.4,546.1 835.1,548.3 838.8,549.6 846.3,552.9 850,553.6 853.7,555.7 861.2,557.9 868.6,561.2 872.4,563.4 872.4,593.1 864.9,588.7 861.1,585.3 858.4,581.6 853.7,572.4 850.1,566.7 842.5,559.1 838.8,557 831.4,551.2 827.6,550.1 824.6,548 823.9,546.8 816.4,546.1ZM596,548 596.5,546 597,548 596.5,548.7ZM553.8,551.8 555.5,549.9 557.3,551.8 555.5,553.7ZM557.4,555.5 559.3,553.7 561,555.5 559.3,557.5ZM591,555.5 592.8,552.6 594.4,555.5 585.4,564.7 581.6,564.6 579.6,562.9 581.6,561.7 585.4,560.9ZM561,559.2 563,557.5 564.9,559.2 563,561ZM566.3,562.9 566.7,562.4 570.4,561.3 573.2,562.9 570.4,564.7Z"/>
<path fill="#8fbaa3" d="M621.8,376.6 622.6,375.2 623.3,376.6 623.4,384 622.6,386.2 621.9,384ZM770.3,376.6 771.7,375.9 773.7,376.6 771.7,377.3ZM805.3,376.6 809,375.8 810.9,376.6 809,377.3ZM756,384 756.8,383.3 757.6,384 756.8,384.8ZM823,384 823.9,383.3 824.7,384 823.9,384.8ZM752.4,387.8 753.1,387.2 753.6,387.8 753.1,388.2ZM826.8,387.8 827.6,387 828.5,387.8 827.6,388.5ZM830.6,391.5 831.4,390.6 832.4,391.5 831.4,392.2ZM741.5,395.2 741.9,394.8 742.4,395.2 741.9,395.8ZM837.6,395.2 838.8,394.5 839.6,395.2 838.8,396.1ZM841.6,398.9 842.5,398.1 844,398.9 842.5,399.8ZM737.3,402.7 738.2,401.5 738.9,402.7 738.2,403.5ZM846.1,402.7 846.3,402.3 850,401.8 851.3,402.7 850,403.9ZM733.7,406.4 734.4,405.6 735.2,406.4 734.4,407.4ZM852.5,406.4 853.7,405.1 857.4,405.5 861.2,409 863.2,410.1 861.2,411.7 857.4,410.9ZM625.7,410.1 626.4,408.5 627,410.1 626.4,411.3ZM863.3,413.8 864.9,411.8 868.6,412.8 872.4,416 872.4,419 868.6,418ZM726.1,417.6 727,416.5 727.7,417.6 727,418.3ZM722.3,421.3 723.3,420.4 724,421.3 723.3,422.1ZM629.4,425 630.1,423.2 630.8,425 630.1,425.9ZM718.4,425 719.5,424.1 720.3,425 719.5,425.8ZM707.2,432.5 708.4,431.7 709.5,432.5 708.4,433.3ZM636.8,436.2 637.5,435.3 638.7,436.2 637.5,437ZM699.2,436.2 700.9,435.4 702.8,436.2 700.9,437ZM643.8,439.9 645,439.2 646.4,439.9 645,440.7ZM685.4,439.9 689.7,439.2 693.4,439 694.5,439.9 693.4,440.7 689.7,440.8 686,440.3ZM654.9,443.7 656.2,443.1 659.9,442.8 671.1,442.8 674.8,442.9 676.3,443.7 674.8,444.3 671.1,444.4 659.9,444.4 656.2,444.2ZM547.4,533.1 548.1,531.5 548.8,533.1 548.1,534.7ZM754.1,540.6 756.8,539.9 759.1,540.6 756.8,541.3ZM794.7,540.6 797.8,539.9 805.3,539.9 808.2,540.6 805.3,541.4 797.8,541.3ZM551.1,544.3 551.8,543.4 552.5,544.3 551.8,546.2ZM741,544.3 741.9,543.6 745.6,543.5 746.8,544.3 745.6,545.1 741.9,545.4ZM815.3,544.3 816.4,543.4 820.2,543.5 823.2,544.3 820.2,545.2 816.4,545.1ZM737.1,548 738.2,547.2 739.3,548 738.2,549ZM826.3,548 827.6,547 831.4,547.2 832.8,548 831.4,549.4 827.6,548.9ZM554.8,551.8 555.5,550.9 556.3,551.8 555.5,552.6ZM733.2,551.8 734.4,550.7 735.4,551.8 734.4,552.7ZM833.7,551.8 835.1,550.3 838.8,550.8 840.8,551.8 842.5,553.5 850,555.1 853.7,557.7 857.4,558.1 859.9,559.2 861.2,560.5 864.9,561.6 867.7,562.9 868.6,563.9 872.4,565.2 872.4,589.6 865.9,585.3 862.4,581.6 860,577.8 858.3,574.1 852.5,566.7 842.5,557ZM558.4,555.5 559.3,554.7 560,555.5 559.3,556.3ZM592.1,555.5 592.8,554.4 593.4,555.5 592.8,556.2ZM729.3,555.5 730.7,554.3 731.6,555.5 730.7,556.4ZM562.1,559.2 563,558.5 563.8,559.2 563,560ZM588.2,559.2 589.1,558.4 589.9,559.2 589.1,560.1ZM725.4,559.2 727,557.8 727.9,559.2 727,560.2ZM568.6,562.9 570.4,562.2 571.6,562.9 570.4,563.7ZM581.4,562.9 585.4,562.1 586.2,562.9 585.4,563.7ZM721.8,562.9 723.3,561.4 724.2,562.9 723.3,564ZM718.1,566.7 719.5,565.2 720.6,566.7 719.5,568ZM714.5,570.4 715.8,569 717.1,570.4 715.8,572.7ZM711,574.1 712.1,572.8 714.4,574.1 713.1,577.8 709.7,581.6 708.9,585.3 708.4,586.1 704.6,591 698.9,596.5 683.3,596.5 686,595.4 689.7,595 693.4,592.2 697.2,591.2 703.1,585.3 704.6,582.7 705.8,581.6 707.3,577.8Z"/>
<path fill="#bbcaae" d="M634.6,432.2L638.6,436.2L634.6,440.2L630.6,436.2Z"/>
<path fill="#f6f3f2" d="M634.6,433.2L637.6,436.2L634.6,439.2L631.6,436.2Z"/>
<path fill="#c5864b" d="M634.6,434.6L636.2,436.2L634.6,437.8L633.0,436.2Z"/>
<circle cx="634.6" cy="436.2" r="1.08" fill="#3a2a0c"/>
<line x1="650.0" y1="444.3" x2="667.0" y2="444.3" stroke="#bbcaae" stroke-width="7.4" stroke-linecap="round"/>
<line x1="650.0" y1="444.3" x2="667.0" y2="444.3" stroke="#f6f3f2" stroke-width="5.4" stroke-linecap="round"/>
<line x1="650.0" y1="444.3" x2="667.0" y2="444.3" stroke="#c5864b" stroke-width="2.7" stroke-linecap="round"/>
<line x1="650.0" y1="444.3" x2="667.0" y2="444.3" stroke="#3a2a0c" stroke-width="1.5" stroke-linecap="round"/>
<path fill="#bbcaae" d="M695.8,436.0L699.7,439.9L695.8,443.8L691.9,439.9Z"/>
<path fill="#f6f3f2" d="M695.8,437.0L698.7,439.9L695.8,442.8L692.9,439.9Z"/>
<path fill="#c5864b" d="M695.8,438.3L697.4,439.9L695.8,441.5L694.2,439.9Z"/>
<circle cx="695.8" cy="439.9" r="1.04" fill="#3a2a0c"/>
<ellipse cx="706.9" cy="436.2" rx="3.6" ry="2.6" fill="#bbcaae"/>
<ellipse cx="706.9" cy="436.2" rx="2.3" ry="1.6" fill="#f6f3f2"/>
<path fill="#bbcaae" d="M719.9,423.0L723.8,426.9L719.9,430.8L716.0,426.9Z"/>
<path fill="#f6f3f2" d="M719.9,424.0L722.8,426.9L719.9,429.8L717.0,426.9Z"/>
<path fill="#c5864b" d="M719.9,425.3L721.5,426.9L719.9,428.5L718.3,426.9Z"/>
<circle cx="719.9" cy="426.9" r="1.04" fill="#3a2a0c"/>
<ellipse cx="734.7" cy="410.2" rx="3.4" ry="2.4" fill="#bbcaae"/>
<ellipse cx="734.7" cy="410.2" rx="2.2" ry="1.4" fill="#f6f3f2"/>
<path fill="#bbcaae" d="M757.0,380.4L760.9,384.3L757.0,388.2L753.1,384.3Z"/>
<path fill="#f6f3f2" d="M757.0,381.4L759.9,384.3L757.0,387.2L754.1,384.3Z"/>
<path fill="#c5864b" d="M757.0,382.7L758.6,384.3L757.0,385.9L755.4,384.3Z"/>
<circle cx="757.0" cy="384.3" r="1.04" fill="#3a2a0c"/>
<path fill="#bbcaae" d="M820.0,380.6L823.7,384.3L820.0,388.0L816.3,384.3Z"/>
<path fill="#f6f3f2" d="M820.0,381.6L822.7,384.3L820.0,387.0L817.3,384.3Z"/>
<path fill="#c5864b" d="M820.0,382.8L821.5,384.3L820.0,385.8L818.5,384.3Z"/>
<circle cx="820.0" cy="384.3" r="0.97" fill="#3a2a0c"/>
<path fill="#bbcaae" d="M827.4,384.6L831.1,388.3L827.4,392.0L823.7,388.3Z"/>
<path fill="#f6f3f2" d="M827.4,385.6L830.1,388.3L827.4,391.0L824.7,388.3Z"/>
<path fill="#c5864b" d="M827.4,386.8L828.9,388.3L827.4,389.8L825.9,388.3Z"/>
<circle cx="827.4" cy="388.3" r="0.97" fill="#3a2a0c"/>
<path fill="#bbcaae" d="M836.7,389.8L840.4,393.5L836.7,397.2L833.0,393.5Z"/>
<path fill="#f6f3f2" d="M836.7,390.8L839.4,393.5L836.7,396.2L834.0,393.5Z"/>
<path fill="#c5864b" d="M836.7,392.0L838.2,393.5L836.7,395.0L835.2,393.5Z"/>
<circle cx="836.7" cy="393.5" r="0.97" fill="#3a2a0c"/>
<path fill="#bbcaae" d="M846.0,396.8L849.7,400.5L846.0,404.2L842.3,400.5Z"/>
<path fill="#f6f3f2" d="M846.0,397.8L848.7,400.5L846.0,403.2L843.3,400.5Z"/>
<path fill="#c5864b" d="M846.0,399.0L847.5,400.5L846.0,402.0L844.5,400.5Z"/>
<circle cx="846.0" cy="400.5" r="0.97" fill="#3a2a0c"/>
<path fill="#bbcaae" d="M856.5,405.8L860.2,409.5L856.5,413.2L852.8,409.5Z"/>
<path fill="#f6f3f2" d="M856.5,406.8L859.2,409.5L856.5,412.2L853.8,409.5Z"/>
<path fill="#c5864b" d="M856.5,408.0L858.0,409.5L856.5,411.0L855.0,409.5Z"/>
<circle cx="856.5" cy="409.5" r="0.97" fill="#3a2a0c"/>
<line x1="551.2" y1="519.5" x2="549.5" y2="535.5" stroke="#bbcaae" stroke-width="7.4" stroke-linecap="round"/>
<line x1="551.2" y1="519.5" x2="549.5" y2="535.5" stroke="#f6f3f2" stroke-width="5.4" stroke-linecap="round"/>
<line x1="551.2" y1="519.5" x2="549.5" y2="535.5" stroke="#c5864b" stroke-width="2.7" stroke-linecap="round"/>
<line x1="551.2" y1="519.5" x2="549.5" y2="535.5" stroke="#3a2a0c" stroke-width="1.5" stroke-linecap="round"/>
<path fill="#bbcaae" d="M585.7,513.4L589.6,517.3L585.7,521.2L581.8,517.3Z"/>
<path fill="#f6f3f2" d="M585.7,514.4L588.6,517.3L585.7,520.2L582.8,517.3Z"/>
<path fill="#c5864b" d="M585.7,515.7L587.3,517.3L585.7,518.9L584.1,517.3Z"/>
<circle cx="585.7" cy="517.3" r="1.04" fill="#3a2a0c"/>
<path fill="#bbcaae" d="M555.5,546.8L559.2,550.5L555.5,554.2L551.8,550.5Z"/>
<path fill="#f6f3f2" d="M555.5,547.8L558.2,550.5L555.5,553.2L552.8,550.5Z"/>
<path fill="#c5864b" d="M555.5,549.0L557.0,550.5L555.5,552.0L554.0,550.5Z"/>
<circle cx="555.5" cy="550.5" r="0.97" fill="#3a2a0c"/>
<path fill="#bbcaae" d="M559.5,551.8L563.2,555.5L559.5,559.2L555.8,555.5Z"/>
<path fill="#f6f3f2" d="M559.5,552.8L562.2,555.5L559.5,558.2L556.8,555.5Z"/>
<path fill="#c5864b" d="M559.5,554.0L561.0,555.5L559.5,557.0L558.0,555.5Z"/>
<circle cx="559.5" cy="555.5" r="0.97" fill="#3a2a0c"/>
<path fill="#bbcaae" d="M596.4,548.0L600.3,551.9L596.4,555.8L592.5,551.9Z"/>
<path fill="#f6f3f2" d="M596.4,549.0L599.3,551.9L596.4,554.8L593.5,551.9Z"/>
<path fill="#c5864b" d="M596.4,550.3L598.0,551.9L596.4,553.5L594.8,551.9Z"/>
<circle cx="596.4" cy="551.9" r="1.04" fill="#3a2a0c"/>
<ellipse cx="573.4" cy="564.8" rx="3.6" ry="2.6" fill="#bbcaae"/>
<ellipse cx="573.4" cy="564.8" rx="2.3" ry="1.6" fill="#f6f3f2"/>
<line x1="702.0" y1="589.5" x2="727.8" y2="555.7" stroke="#bbcaae" stroke-width="6.6" stroke-linecap="round"/>
<line x1="702.0" y1="589.5" x2="727.8" y2="555.7" stroke="#f6f3f2" stroke-width="4.4" stroke-linecap="round"/>
<circle cx="704.9" cy="586.3" r="1.5" fill="#c5864b"/><circle cx="704.9" cy="586.3" r="1.0" fill="#3a2a0c"/>
<circle cx="708.5" cy="582.3" r="1.5" fill="#c5864b"/><circle cx="708.5" cy="582.3" r="1.0" fill="#3a2a0c"/>
<circle cx="712.1" cy="577.4" r="1.5" fill="#c5864b"/><circle cx="712.1" cy="577.4" r="1.0" fill="#3a2a0c"/>
<circle cx="719.3" cy="565.4" r="1.5" fill="#c5864b"/><circle cx="719.3" cy="565.4" r="1.0" fill="#3a2a0c"/>
<circle cx="723.4" cy="560.5" r="1.5" fill="#c5864b"/><circle cx="723.4" cy="560.5" r="1.0" fill="#3a2a0c"/>
<path fill="#bbcaae" d="M738.2,544.2L742.1,548.1L738.2,552.0L734.3,548.1Z"/>
<path fill="#f6f3f2" d="M738.2,545.2L741.1,548.1L738.2,551.0L735.3,548.1Z"/>
<path fill="#c5864b" d="M738.2,546.5L739.8,548.1L738.2,549.7L736.6,548.1Z"/>
<circle cx="738.2" cy="548.1" r="1.04" fill="#3a2a0c"/>
<path fill="#bbcaae" d="M745.9,539.4L749.8,543.3L745.9,547.2L742.0,543.3Z"/>
<path fill="#f6f3f2" d="M745.9,540.4L748.8,543.3L745.9,546.2L743.0,543.3Z"/>
<path fill="#c5864b" d="M745.9,541.7L747.5,543.3L745.9,544.9L744.3,543.3Z"/>
<circle cx="745.9" cy="543.3" r="1.04" fill="#3a2a0c"/>
<ellipse cx="794.0" cy="538.1" rx="3.6" ry="2.6" fill="#bbcaae"/>
<ellipse cx="794.0" cy="538.1" rx="2.3" ry="1.6" fill="#f6f3f2"/>
<path fill="#bbcaae" d="M823.7,539.8L827.6,543.7L823.7,547.6L819.8,543.7Z"/>
<path fill="#f6f3f2" d="M823.7,540.8L826.6,543.7L823.7,546.6L820.8,543.7Z"/>
<path fill="#c5864b" d="M823.7,542.1L825.3,543.7L823.7,545.3L822.1,543.7Z"/>
<circle cx="823.7" cy="543.7" r="1.04" fill="#3a2a0c"/>
<path fill="#bbcaae" d="M834.8,543.5L838.7,547.4L834.8,551.3L830.9,547.4Z"/>
<path fill="#f6f3f2" d="M834.8,544.5L837.7,547.4L834.8,550.3L831.9,547.4Z"/>
<path fill="#c5864b" d="M834.8,545.8L836.4,547.4L834.8,549.0L833.2,547.4Z"/>
<circle cx="834.8" cy="547.4" r="1.04" fill="#3a2a0c"/>
<path fill="#bbcaae" d="M844.1,548.6L848.0,552.5L844.1,556.4L840.2,552.5Z"/>
<path fill="#f6f3f2" d="M844.1,549.6L847.0,552.5L844.1,555.4L841.2,552.5Z"/>
<path fill="#c5864b" d="M844.1,550.9L845.7,552.5L844.1,554.1L842.5,552.5Z"/>
<circle cx="844.1" cy="552.5" r="1.04" fill="#3a2a0c"/>
<line x1="853.4" y1="558.0" x2="861.0" y2="566.0" stroke="#bbcaae" stroke-width="7.4" stroke-linecap="round"/>
<line x1="853.4" y1="558.0" x2="861.0" y2="566.0" stroke="#f6f3f2" stroke-width="5.4" stroke-linecap="round"/>
<line x1="853.4" y1="558.0" x2="861.0" y2="566.0" stroke="#c5864b" stroke-width="2.7" stroke-linecap="round"/>
<line x1="853.4" y1="558.0" x2="861.0" y2="566.0" stroke="#3a2a0c" stroke-width="1.5" stroke-linecap="round"/></g>
<rect x="53.50" y="50.20" width="369.00" height="210.80" fill="none" stroke="#000" stroke-width="2.10"/>
<line x1="45.00" y1="50.20" x2="53.50" y2="50.20" stroke="#000" stroke-width="1.5"/>
<line x1="45.00" y1="155.60" x2="53.50" y2="155.60" stroke="#000" stroke-width="1.5"/>
<line x1="45.00" y1="261.00" x2="53.50" y2="261.00" stroke="#000" stroke-width="1.5"/>
<line x1="53.50" y1="261.00" x2="53.50" y2="269.60" stroke="#000" stroke-width="1.5"/>
<line x1="238.00" y1="261.00" x2="238.00" y2="269.60" stroke="#000" stroke-width="1.5"/>
<line x1="422.50" y1="261.00" x2="422.50" y2="269.60" stroke="#000" stroke-width="1.5"/>
<rect x="495.90" y="50.20" width="369.00" height="210.80" fill="none" stroke="#000" stroke-width="2.10"/>
<line x1="487.40" y1="50.20" x2="495.90" y2="50.20" stroke="#000" stroke-width="1.5"/>
<line x1="487.40" y1="155.60" x2="495.90" y2="155.60" stroke="#000" stroke-width="1.5"/>
<line x1="487.40" y1="261.00" x2="495.90" y2="261.00" stroke="#000" stroke-width="1.5"/>
<line x1="495.90" y1="261.00" x2="495.90" y2="269.60" stroke="#000" stroke-width="1.5"/>
<line x1="680.40" y1="261.00" x2="680.40" y2="269.60" stroke="#000" stroke-width="1.5"/>
<line x1="864.90" y1="261.00" x2="864.90" y2="269.60" stroke="#000" stroke-width="1.5"/>
<rect x="53.50" y="380.30" width="369.00" height="210.80" fill="none" stroke="#000" stroke-width="2.10"/>
<line x1="45.00" y1="380.30" x2="53.50" y2="380.30" stroke="#000" stroke-width="1.5"/>
<line x1="45.00" y1="485.70" x2="53.50" y2="485.70" stroke="#000" stroke-width="1.5"/>
<line x1="45.00" y1="591.10" x2="53.50" y2="591.10" stroke="#000" stroke-width="1.5"/>
<line x1="53.50" y1="591.10" x2="53.50" y2="599.70" stroke="#000" stroke-width="1.5"/>
<line x1="238.00" y1="591.10" x2="238.00" y2="599.70" stroke="#000" stroke-width="1.5"/>
<line x1="422.50" y1="591.10" x2="422.50" y2="599.70" stroke="#000" stroke-width="1.5"/>
<rect x="495.90" y="380.30" width="369.00" height="210.80" fill="none" stroke="#000" stroke-width="2.10"/>
<line x1="487.40" y1="380.30" x2="495.90" y2="380.30" stroke="#000" stroke-width="1.5"/>
<line x1="487.40" y1="485.70" x2="495.90" y2="485.70" stroke="#000" stroke-width="1.5"/>
<line x1="487.40" y1="591.10" x2="495.90" y2="591.10" stroke="#000" stroke-width="1.5"/>
<line x1="495.90" y1="591.10" x2="495.90" y2="599.70" stroke="#000" stroke-width="1.5"/>
<line x1="680.40" y1="591.10" x2="680.40" y2="599.70" stroke="#000" stroke-width="1.5"/>
<line x1="864.90" y1="591.10" x2="864.90" y2="599.70" stroke="#000" stroke-width="1.5"/>
<rect x="917.30" y="244.92" width="11.60" height="17.48" fill="#0b3561"/>
<rect x="917.30" y="227.83" width="11.60" height="17.48" fill="#1c6476"/>
<rect x="917.30" y="210.75" width="11.60" height="17.48" fill="#3c938e"/>
<rect x="917.30" y="193.67" width="11.60" height="17.48" fill="#8db7a2"/>
<rect x="917.30" y="176.58" width="11.60" height="17.48" fill="#d5d5b4"/>
<rect x="917.30" y="159.50" width="11.60" height="17.48" fill="#f6f3f2"/>
<rect x="917.30" y="142.42" width="11.60" height="17.48" fill="#e6c5a9"/>
<rect x="917.30" y="125.33" width="11.60" height="17.48" fill="#d28b59"/>
<rect x="917.30" y="108.25" width="11.60" height="17.48" fill="#99732b"/>
<rect x="917.30" y="91.17" width="11.60" height="17.48" fill="#56571a"/>
<rect x="917.30" y="74.08" width="11.60" height="17.48" fill="#283614"/>
<rect x="917.30" y="57.00" width="11.60" height="17.48" fill="#1b2513"/>
<rect x="917.30" y="57.00" width="11.60" height="205.00" fill="none" stroke="#000" stroke-width="1.9"/>
<line x1="928.9" y1="91.17" x2="936.5" y2="91.17" stroke="#000" stroke-width="1.5"/>
<line x1="928.9" y1="142.42" x2="936.5" y2="142.42" stroke="#000" stroke-width="1.5"/>
<line x1="928.9" y1="193.67" x2="936.5" y2="193.67" stroke="#000" stroke-width="1.5"/>
<line x1="928.9" y1="244.92" x2="936.5" y2="244.92" stroke="#000" stroke-width="1.5"/>
<rect x="78.90" y="716.50" width="29.00" height="9.60" fill="#0b3561"/>
<rect x="107.50" y="716.50" width="29.00" height="9.60" fill="#1b5e6d"/>
<rect x="136.10" y="716.50" width="29.00" height="9.60" fill="#468b80"/>
<rect x="164.70" y="716.50" width="29.00" height="9.60" fill="#8fb59d"/>
<rect x="193.30" y="716.50" width="29.00" height="9.60" fill="#d8d8b2"/>
<rect x="221.90" y="716.50" width="29.00" height="9.60" fill="#f6f3f2"/>
<rect x="250.50" y="716.50" width="29.00" height="9.60" fill="#e6c5a9"/>
<rect x="279.10" y="716.50" width="29.00" height="9.60" fill="#d28b59"/>
<rect x="307.70" y="716.50" width="29.00" height="9.60" fill="#99732b"/>
<rect x="336.30" y="716.50" width="29.00" height="9.60" fill="#56571a"/>
<rect x="364.90" y="716.50" width="29.00" height="9.60" fill="#283614"/>
<rect x="78.90" y="716.50" width="314.60" height="9.60" fill="none" stroke="#000" stroke-width="1.9"/>
<rect x="529.10" y="716.50" width="24.78" height="9.60" fill="#0b3561"/>
<rect x="553.48" y="716.50" width="24.78" height="9.60" fill="#1a5f7e"/>
<rect x="577.85" y="716.50" width="24.78" height="9.60" fill="#2d7f87"/>
<rect x="602.23" y="716.50" width="24.78" height="9.60" fill="#55a090"/>
<rect x="626.61" y="716.50" width="24.78" height="9.60" fill="#8fbaa3"/>
<rect x="650.98" y="716.50" width="24.78" height="9.60" fill="#d3d4b5"/>
<rect x="675.36" y="716.50" width="24.78" height="9.60" fill="#f6f3f2"/>
<rect x="699.74" y="716.50" width="24.78" height="9.60" fill="#e9c4a8"/>
<rect x="724.12" y="716.50" width="24.78" height="9.60" fill="#e0a577"/>
<rect x="748.49" y="716.50" width="24.78" height="9.60" fill="#cf8a4e"/>
<rect x="772.87" y="716.50" width="24.78" height="9.60" fill="#a57a30"/>
<rect x="797.25" y="716.50" width="24.78" height="9.60" fill="#646422"/>
<rect x="821.62" y="716.50" width="24.78" height="9.60" fill="#2b3b18"/>
<rect x="529.10" y="716.50" width="316.90" height="9.60" fill="none" stroke="#000" stroke-width="1.9"/>
<line x1="138.70" y1="726.1" x2="138.70" y2="733.4" stroke="#000" stroke-width="1.5"/>
<line x1="228.30" y1="726.1" x2="228.30" y2="733.4" stroke="#000" stroke-width="1.5"/>
<line x1="317.90" y1="726.1" x2="317.90" y2="733.4" stroke="#000" stroke-width="1.5"/>
<line x1="590.10" y1="726.1" x2="590.10" y2="733.4" stroke="#000" stroke-width="1.5"/>
<line x1="680.50" y1="726.1" x2="680.50" y2="733.4" stroke="#000" stroke-width="1.5"/>
<line x1="771.30" y1="726.1" x2="771.30" y2="733.4" stroke="#000" stroke-width="1.5"/>
<g font-family="'Latin Modern Roman','Liberation Serif',serif" fill="#000"><text transform="translate(173.80,34.73) scale(0.9162,1)" font-size="46.52">PINNs</text>
<text transform="translate(589.80,34.30) scale(0.9112,1)" font-size="46.52">Reference</text>
<text x="24.53" y="633.94" font-size="38.00">1.0</text>
<text x="212.26" y="633.94" font-size="38.00">4.5</text>
<text x="396.28" y="633.94" font-size="38.00">8.0</text>
<text x="225.15" y="677.30" font-size="40.00" font-family="'Latin Modern Math','Latin Modern Roman','DejaVu Serif',serif">𝑥</text>
<text x="467.43" y="633.94" font-size="38.00">1.0</text>
<text x="655.16" y="633.94" font-size="38.00">4.5</text>
<text x="839.18" y="633.94" font-size="38.00">8.0</text>
<text x="668.05" y="677.30" font-size="40.00" font-family="'Latin Modern Math','Latin Modern Roman','DejaVu Serif',serif">𝑥</text>
<text x="942.78" y="105.00" font-size="38.00">0.00</text>
<text x="943.92" y="155.80" font-size="38.00">-0.15</text>
<text x="943.92" y="207.05" font-size="38.00">-0.30</text>
<text x="943.92" y="258.30" font-size="38.00">-0.45</text>
<text x="103.58" y="768.54" font-size="38.00">0.00</text>
<text x="192.88" y="768.54" font-size="38.00">0.00</text>
<text x="282.54" y="768.54" font-size="38.00">0.01</text>
<text x="569.61" y="768.54" font-size="38.00">20</text>
<text x="660.31" y="768.54" font-size="38.00">50</text>
<text x="751.50" y="768.54" font-size="38.00">80</text>
<text x="148.56" y="365.60" font-size="38.00" font-family="'Latin Modern Math','Latin Modern Roman','DejaVu Serif',serif">𝜀</text>
<text x="177.12" y="365.60" font-size="38.00" font-family="'Latin Modern Math','Latin Modern Roman','DejaVu Serif',serif">=</text>
<text x="217.74" y="365.60" font-size="38.00" font-family="'Latin Modern Math','Latin Modern Roman','DejaVu Serif',serif">|</text>
<text x="228.84" y="365.60" font-size="38.00" font-family="'Latin Modern Math','Latin Modern Roman','DejaVu Serif',serif">𝑝</text>
<text x="256.52" y="365.60" font-size="38.00" font-family="'Latin Modern Math','Latin Modern Roman','DejaVu Serif',serif">−</text>
<text x="295.34" y="365.60" font-size="38.00" font-family="'Latin Modern Math','Latin Modern Roman','DejaVu Serif',serif">𝑝̃</text>
<text x="313.24" y="365.60" font-size="38.00" font-family="'Latin Modern Math','Latin Modern Roman','DejaVu Serif',serif">|</text>
<text x="521.24" y="365.60" font-size="38.00" font-family="'Latin Modern Math','Latin Modern Roman','DejaVu Serif',serif">𝜀̂</text>
<text x="549.42" y="365.60" font-size="38.00" font-family="'Latin Modern Math','Latin Modern Roman','DejaVu Serif',serif">=</text>
<text x="589.74" y="365.60" font-size="38.00" font-family="'Latin Modern Math','Latin Modern Roman','DejaVu Serif',serif">|</text>
<text x="600.20" y="365.60" font-size="38.00" font-family="'Latin Modern Math','Latin Modern Roman','DejaVu Serif',serif">(</text>
<text x="616.04" y="365.60" font-size="38.00" font-family="'Latin Modern Math','Latin Modern Roman','DejaVu Serif',serif">𝑝</text>
<text x="643.82" y="365.60" font-size="38.00" font-family="'Latin Modern Math','Latin Modern Roman','DejaVu Serif',serif">−</text>
<text x="681.94" y="365.60" font-size="38.00" font-family="'Latin Modern Math','Latin Modern Roman','DejaVu Serif',serif">𝑝̃</text>
<text x="700.02" y="365.60" font-size="38.00" font-family="'Latin Modern Math','Latin Modern Roman','DejaVu Serif',serif">)</text>
<text x="714.12" y="365.60" font-size="38.00" font-family="'Latin Modern Math','Latin Modern Roman','DejaVu Serif',serif">/</text>
<text x="734.14" y="365.60" font-size="38.00" font-family="'Latin Modern Math','Latin Modern Roman','DejaVu Serif',serif">𝑝</text>
<text x="752.54" y="365.60" font-size="38.00" font-family="'Latin Modern Math','Latin Modern Roman','DejaVu Serif',serif">|</text>
<text x="775.70" y="365.60" font-size="38.00" font-family="'Latin Modern Math','Latin Modern Roman','DejaVu Serif',serif">(</text>
<text x="790.42" y="365.60" font-size="38.00" font-family="'Latin Modern Math','Latin Modern Roman','DejaVu Serif',serif">%</text>
<text x="821.92" y="365.60" font-size="38.00" font-family="'Latin Modern Math','Latin Modern Roman','DejaVu Serif',serif">)</text>
<text transform="translate(18.74,165.56) rotate(-90)" font-size="38.50" font-family="'Latin Modern Math','Latin Modern Roman','DejaVu Serif',serif">𝑦</text>
<text transform="translate(18.74,495.65) rotate(-90)" font-size="38.50" font-family="'Latin Modern Math','Latin Modern Roman','DejaVu Serif',serif">𝑦</text></g>
</svg>
</body></html>
